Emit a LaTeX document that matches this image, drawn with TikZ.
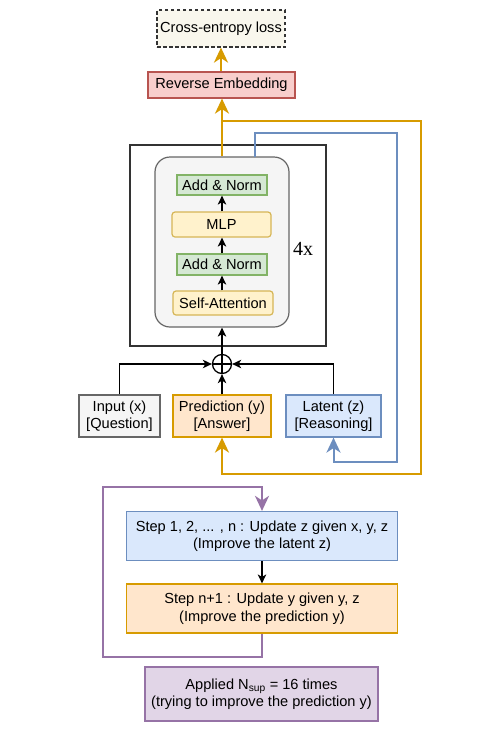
\documentclass[tikz,border=0pt]{standalone}
\usepackage{fontspec}
\setmainfont{Liberation Sans}
\newfontfamily\serifx{Liberation Serif}
\usetikzlibrary{arrows.meta}
\definecolor{beigeF}{HTML}{F9F7ED}
\definecolor{redF}{HTML}{F8CECC}\definecolor{redD}{HTML}{B85450}
\definecolor{greenF}{HTML}{D5E8D4}\definecolor{greenD}{HTML}{82B366}
\definecolor{yelF}{HTML}{FFF2CC}\definecolor{yelD}{HTML}{D6B656}
\definecolor{grayF}{HTML}{F5F5F5}\definecolor{grayD}{HTML}{666666}
\definecolor{oraF}{HTML}{FFE6CC}\definecolor{oraD}{HTML}{D79B00}
\definecolor{bluF}{HTML}{DAE8FC}\definecolor{bluD}{HTML}{6C8EBF}
\definecolor{purF}{HTML}{E1D5E7}\definecolor{purD}{HTML}{9673A6}
\tikzset{
  txt/.style={font=\fontsize{14.6}{17.5}\selectfont, align=center, inner sep=0pt},
  box/.style={txt, draw, rectangle, line width=1.2pt},
  blk/.style={line width=1.3pt, -{Stealth[length=9pt,width=8.5pt,inset=2.5pt]}},
  col/.style={line width=2pt, draw=#1, line join=miter, -{Stealth[length=15pt,width=14pt,inset=4.5pt]}},
}
\begin{document}
\begin{tikzpicture}[x=1pt,y=-1pt]
\useasboundingbox (0,0) rectangle (500,737);
% top
\node[box, dash pattern=on 3.5pt off 2.5pt, fill=beigeF, draw=black!80, minimum width=128pt, minimum height=37pt] (loss) at (221,28.5) {Cross-entropy loss};
\node[box, fill=redF, draw=redD, minimum width=147pt, minimum height=26pt] (rev) at (221.5,85) {Reverse Embedding};
% transformer
\node[draw=black!80, line width=1.3pt, minimum width=196pt, minimum height=201pt, inner sep=0pt] (outer) at (228,245.5) {};
\node[draw=grayD, fill=grayF, line width=1.2pt, rounded corners=15pt, minimum width=134pt, minimum height=170pt, inner sep=0pt] (inner) at (222,242) {};
\node[box, fill=greenF, draw=greenD, minimum width=90pt, minimum height=20pt] (an2) at (222,185) {Add \& Norm};
\node[box, fill=yelF, draw=yelD, rounded corners=3pt, minimum width=99pt, minimum height=25pt] (mlp) at (221.5,224.5) {MLP};
\node[box, fill=greenF, draw=greenD, minimum width=90pt, minimum height=21pt] (an1) at (222,264.5) {Add \& Norm};
\node[box, fill=yelF, draw=yelD, rounded corners=3pt, minimum width=100pt, minimum height=24pt] (sa) at (223,303) {Self-Attention};
\node[inner sep=0pt, font=\serifx\fontsize{20}{20}\selectfont] (four) at (303,249) {4x};
\draw[blk] (sa.north -| an1.south) -- (an1.south);
\draw[blk] (an1.north) -- (an1.north |- mlp.south);
\draw[blk] (mlp.north -| an2.south) -- (an2.south);
% plus
\node[circle, draw=black, line width=1.3pt, fill=white, minimum size=19pt, inner sep=0pt,
  path picture={\draw[line width=1.6pt] (path picture bounding box.north) -- (path picture bounding box.south)
  (path picture bounding box.west) -- (path picture bounding box.east);}] (plus) at (222,364) {};
% inputs
\node[box, fill=grayF, draw=grayD, minimum width=81pt, minimum height=42pt] (inp) at (119.5,416) {Input (x)\\ [0pt][Question]};
\node[box, fill=oraF, draw=oraD, minimum width=98pt, minimum height=42pt] (pred) at (222,416) {Prediction (y)\\ [0pt][Answer]};
\node[box, fill=bluF, draw=bluD, minimum width=95pt, minimum height=42pt] (lat) at (333.5,416) {Latent (z)\\ [0pt][Reasoning]};
\draw[blk] (inp.north) |- (plus.west);
\draw[blk] (lat.north) |- (plus.east);
\draw[blk] (pred.north) -- (plus.south);
\draw[blk] (plus.north) -- (inner.south);
% loops
\coordinate (oj) at (222,121);
\coordinate (o1) at (421,121);
\coordinate (o2) at (421,474);
\draw[col=oraD] (oj) -- (o1) -- (o2) -| (pred.south);
\coordinate (bs) at (255,157);
\coordinate (b1) at (255,133);
\coordinate (b2) at (397,133);
\coordinate (b3) at (397,462);
\draw[col=bluD] (bs) -- (b1) -- (b2) -- (b3) -| (lat.south);
\draw[col=oraD] (inner.north) -- (inner.north |- rev.south);
\draw[col=oraD] (rev.north -| loss.south) -- (loss.south);
% steps
\node[box, fill=bluF, draw=bluD, minimum width=271pt, minimum height=49pt] (step1) at (262,536) {Step 1, 2, ... , n : Update z given x, y, z\\ [0pt](Improve the latent z)};
\node[box, fill=oraF, draw=oraD, minimum width=271pt, minimum height=49pt] (step2) at (262,608.5) {Step n+1 : Update y given y, z\\ [0pt](Improve the prediction y)};
\draw[blk] (step1.south) -- (step2.north);
\coordinate (p1) at (262,657);
\coordinate (p2) at (103,657);
\coordinate (p3) at (103,487);
\draw[col=purD] (step2.south) -- (p1) -- (p2) -- (p3) -| (step1.north);
\node[box, fill=purF, draw=purD, minimum width=233pt, minimum height=54pt] (applied) at (261.5,694) {Applied N\textsubscript{sup} = 16 times\\ [0pt](trying to improve the prediction y)};
\end{tikzpicture}
\end{document}
